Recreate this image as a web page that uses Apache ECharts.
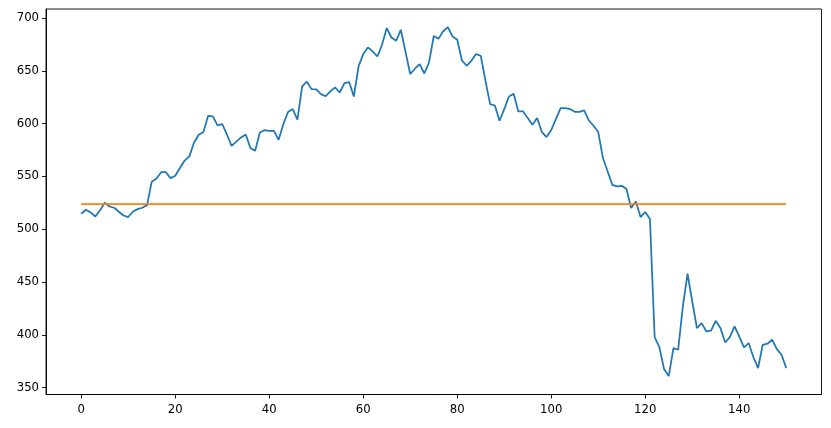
<!DOCTYPE html>
<html>
<head>
<meta charset="utf-8">
<script src="https://cdn.jsdelivr.net/npm/echarts@6/dist/echarts.min.js"></script>
<style>
html,body{margin:0;padding:0;background:#fff;}
#chart{width:831px;height:428px;}
</style>
</head>
<body>
<div id="chart"></div>
<script>
// Data
const seriesValues = [
  514.6, 518.4, 515.9, 512, 518, 525, 521.5, 520.3, 516.5, 513,
  511.5, 516.8, 519, 520.3, 522.8, 545, 548, 554, 554, 548.4,
  550.6, 558, 565, 569, 582.2, 589.5, 592, 607.4, 606.8, 598.3,
  599.6, 589.5, 579, 583, 586.9, 589.7, 576.8, 574.3, 591.6, 593.9,
  593.2, 593.2, 584.7, 599.6, 611, 613.8, 603.7, 635.2, 639.7, 632.7,
  632.5, 628, 626, 630.5, 634.3, 629.5, 638.4, 639.4, 625.7, 654.2,
  665.9, 672.2, 668.4, 663.6, 674.7, 690.5, 681.6, 678.5, 688.9, 667.8,
  647, 652, 656.4, 647.5, 658, 683, 680.3, 687.5, 691.5, 682.6,
  679.4, 659.8, 654.8, 659.5, 665.9, 664.3, 640.6, 618.5, 617.2, 602.7,
  613.8, 625.7, 628.3, 611.5, 611.5, 605.3, 598.9, 605.3, 592, 587.3,
  594, 604.5, 614.7, 614.7, 613.8, 611.2, 611.2, 612.5, 603, 598,
  592, 567.4, 554.7, 542, 540.5, 541.1, 538, 520, 526.3, 511.5,
  516.2, 509.6, 397.8, 388.3, 367.6, 360.8, 387.4, 385.8, 426.8, 457.8,
  431.5, 406.3, 411, 403.1, 404, 413.2, 406.3, 392.7, 397.8, 407.9,
  398.4, 388, 392.1, 378.9, 368.4, 390.5, 391.5, 395.3, 386.4, 381,
  368.4
];
const refLineX = [0, 150];
const refLineY = [523.8, 523.8];
const xTickLabels = [0, 20, 40, 60, 80, 100, 120, 140];
const yTickLabels = [350, 400, 450, 500, 550, 600, 650, 700];

const blueData = seriesValues.map((v, i) => [i, v]);
const orangeData = refLineX.map((x, i) => [x, refLineY[i]]);

const labelStyle = {color: '#000', fontSize: 11.7, fontFamily: 'DejaVu Sans'};
const chart = echarts.init(document.getElementById('chart'));
chart.setOption({
  animation: false,
  backgroundColor: '#fff',
  grid: {
    left: 46, right: 9.5, top: 9, bottom: 33.5,
    containLabel: false, outerBoundsMode: 'none',
    show: true, borderColor: '#000', borderWidth: 0.9, backgroundColor: 'transparent'
  },
  xAxis: {
    type: 'value', min: -7.5, max: 157.5,
    axisLine: {show: true, onZero: false, lineStyle: {color: '#000', width: 0.9}},
    axisTick: {show: true, inside: false, length: 4, customValues: xTickLabels, lineStyle: {color: '#000', width: 0.9}},
    axisLabel: Object.assign({customValues: xTickLabels, margin: 9.5}, labelStyle),
    splitLine: {show: false}
  },
  yAxis: {
    type: 'value', min: 343.4, max: 708.6,
    axisLine: {show: true, onZero: false, lineStyle: {color: '#000', width: 0.9}},
    axisTick: {show: true, inside: false, length: 4, customValues: yTickLabels, lineStyle: {color: '#000', width: 0.9}},
    axisLabel: Object.assign({customValues: yTickLabels, margin: 7}, labelStyle),
    splitLine: {show: false}
  },
  series: [
    {type: 'line', data: blueData, showSymbol: false, symbol: 'none',
     lineStyle: {color: '#1f77b4', width: 1.75}, itemStyle: {color: '#1f77b4'}},
    {type: 'line', data: orangeData, showSymbol: false, symbol: 'none',
     lineStyle: {color: '#ff7f0e', width: 1.75}, itemStyle: {color: '#ff7f0e'}}
  ]
});
</script>
</body>
</html>
